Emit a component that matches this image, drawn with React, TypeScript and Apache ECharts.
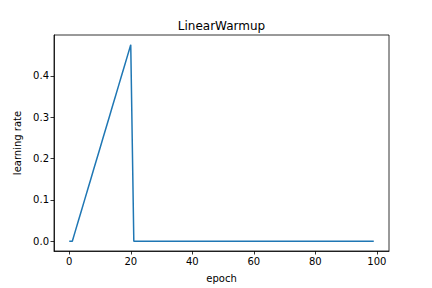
import React, { useEffect, useRef } from "react";
import * as echarts from "echarts";

const epochs: number[] = [
  0, 1, 2, 3, 4, 5, 6, 7, 8, 9, 10, 11, 12, 13, 14, 15, 16, 17, 18, 19,
  20, 21, 22, 23, 24, 25, 26, 27, 28, 29, 30, 31, 32, 33, 34, 35, 36, 37, 38, 39,
  40, 41, 42, 43, 44, 45, 46, 47, 48, 49, 50, 51, 52, 53, 54, 55, 56, 57, 58, 59,
  60, 61, 62, 63, 64, 65, 66, 67, 68, 69, 70, 71, 72, 73, 74, 75, 76, 77, 78, 79,
  80, 81, 82, 83, 84, 85, 86, 87, 88, 89, 90, 91, 92, 93, 94, 95, 96, 97, 98, 99,
];

const learningRate: number[] = [
  0, 0, 0.025, 0.05, 0.075, 0.1, 0.125, 0.15, 0.175, 0.2,
  0.225, 0.25, 0.275, 0.3, 0.325, 0.35, 0.375, 0.4, 0.425, 0.45,
  0.475, 0, 0, 0, 0, 0, 0, 0, 0, 0,
  0, 0, 0, 0, 0, 0, 0, 0, 0, 0,
  0, 0, 0, 0, 0, 0, 0, 0, 0, 0,
  0, 0, 0, 0, 0, 0, 0, 0, 0, 0,
  0, 0, 0, 0, 0, 0, 0, 0, 0, 0,
  0, 0, 0, 0, 0, 0, 0, 0, 0, 0,
  0, 0, 0, 0, 0, 0, 0, 0, 0, 0,
  0, 0, 0, 0, 0, 0, 0, 0, 0, 0,
];

const xTicks: number[] = [0, 20, 40, 60, 80, 100];
const yTicks: number[] = [0, 0.1, 0.2, 0.3, 0.4];

const FONT = "DejaVu Sans";

export default function App() {
  const ref = useRef<HTMLDivElement>(null);
  useEffect(() => {
    if (!ref.current) return;
    const chart = echarts.init(ref.current, undefined, { renderer: "svg" });
    const data = epochs.map((e, i) => [e, learningRate[i]]);
    chart.setOption({
      animation: false,
      backgroundColor: "#ffffff",
      grid: {
        left: 54,
        right: 43,
        top: 35,
        bottom: 36,
        show: true,
        borderColor: "#000000",
        borderWidth: 0.8,
        backgroundColor: "transparent",
      },
      graphic: [
        {
          type: "text",
          x: 221.5,
          y: 26,
          style: {
            text: "LinearWarmup",
            font: `12px '${FONT}'`,
            fill: "#000000",
            textAlign: "center",
            textVerticalAlign: "middle",
          },
        },
      ],
      xAxis: {
        type: "value",
        min: -4.95,
        max: 103.95,
        name: "epoch",
        nameLocation: "middle",
        nameGap: 22,
        nameTextStyle: { fontFamily: FONT, fontSize: 10, color: "#000000" },
        splitLine: { show: false },
        axisLine: { show: true, onZero: false, lineStyle: { color: "#000000", width: 0.8 } },
        axisTick: {
          show: true,
          inside: false,
          length: 3.5,
          customValues: xTicks,
          lineStyle: { color: "#000000", width: 0.8 },
        },
        axisLabel: {
          customValues: xTicks,
          fontFamily: FONT,
          fontSize: 10,
          color: "#000000",
          margin: 5,
          showMinLabel: true,
          showMaxLabel: true,
        },
      },
      yAxis: {
        type: "value",
        min: -0.02375,
        max: 0.49875,
        name: "learning rate",
        nameLocation: "middle",
        nameGap: 31,
        nameRotate: 90,
        nameTextStyle: { fontFamily: FONT, fontSize: 10, color: "#000000" },
        splitLine: { show: false },
        axisLine: { show: true, onZero: false, lineStyle: { color: "#000000", width: 0.8 } },
        axisTick: {
          show: true,
          inside: false,
          length: 3.5,
          customValues: yTicks,
          lineStyle: { color: "#000000", width: 0.8 },
        },
        axisLabel: {
          customValues: yTicks,
          fontFamily: FONT,
          fontSize: 10,
          color: "#000000",
          margin: 5,
          formatter: (v: number) => v.toFixed(1),
        },
      },
      series: [
        {
          type: "line",
          data,
          showSymbol: false,
          symbol: "none",
          lineStyle: { color: "#1f77b4", width: 1.5 },
          z: 3,
        },
      ],
    });
    return () => chart.dispose();
  }, []);
  return (
    <div
      ref={ref}
      style={{ position: "fixed", left: 0, top: 0, width: 432, height: 288 }}
    />
  );
}
